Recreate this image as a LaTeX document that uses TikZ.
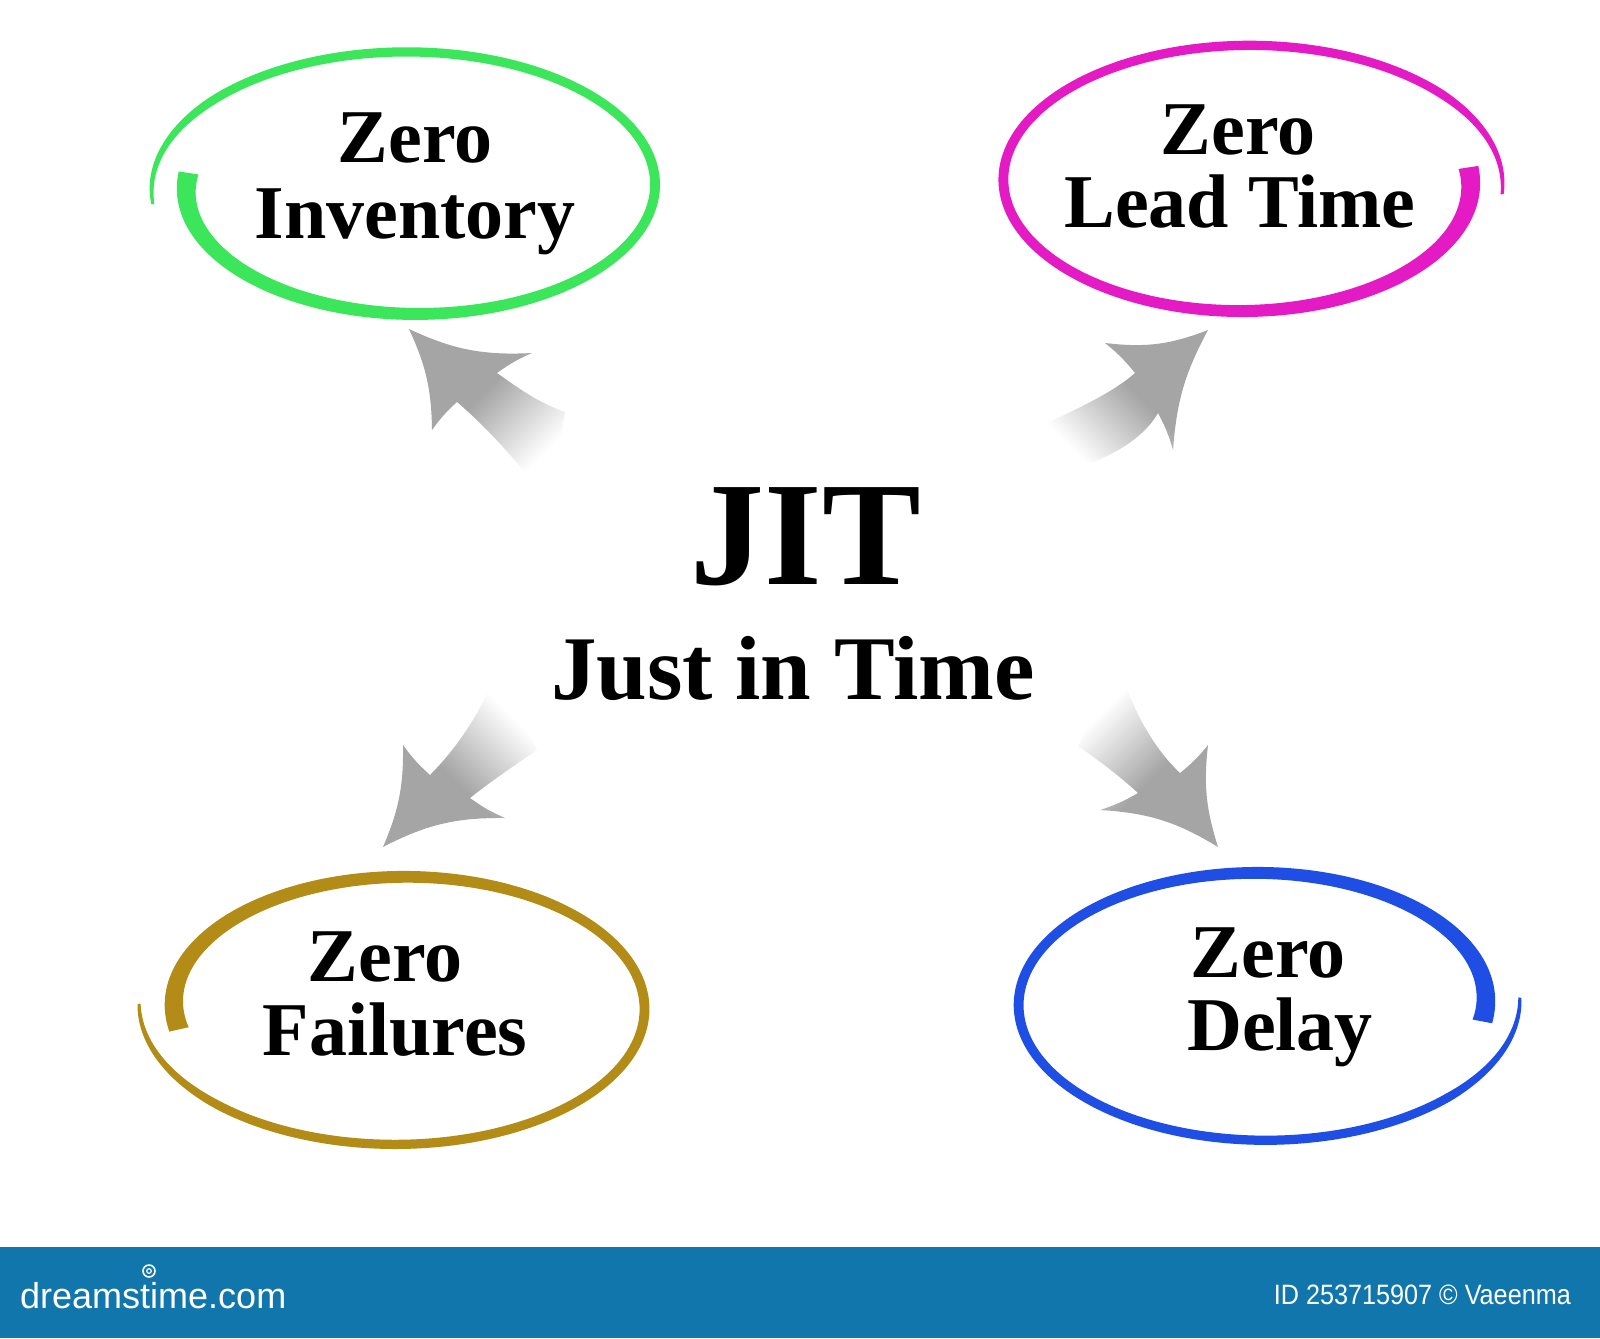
\documentclass[tikz,border=0pt]{standalone}
\usepackage{fontspec}
\setmainfont{Liberation Serif}
\newfontfamily\barfont{Liberation Sans}
\newfontfamily\idfont[FakeStretch=0.9]{Liberation Sans}
\definecolor{hgreen}{RGB}{60,230,90}
\definecolor{hmagenta}{RGB}{228,26,196}
\definecolor{hgold}{RGB}{178,140,22}
\definecolor{hblue}{RGB}{30,78,228}
\definecolor{agray}{RGB}{165,165,165}
\definecolor{barblue}{RGB}{16,118,172}
\pgfdeclareverticalshading{arrfade}{100bp}{color(0bp)=(white); color(30bp)=(white); color(56bp)=(agray); color(100bp)=(agray)}
\newcommand\jithoop[9]{%
  \fill[#9] plot[domain=0:1,samples=240,variable=\s]
    ({#1+(#3+#5*\s+0.5*wid(\s))*cos(#7+(#8)*\s)},{#2+(#4+#6*\s+0.5*wid(\s))*sin(#7+(#8)*\s)})
    -- plot[domain=1:0,samples=240,variable=\s]
    ({#1+(#3+#5*\s-0.5*wid(\s))*cos(#7+(#8)*\s)},{#2+(#4+#6*\s-0.5*wid(\s))*sin(#7+(#8)*\s)})
    -- cycle;}
\tikzset{
  lbl/.style={font=\fontsize{76}{76}\selectfont\bfseries, inner sep=0pt, anchor=base},
  arr/.style={shading=arrfade},
}
\begin{document}
\begin{tikzpicture}[x=1pt,y=-1pt,
  declare function={wid(\x)=9+11*exp(-5*\x)-6*max(0,(\x-0.88)/0.12);}]
\path[use as bounding box, fill=white] (0,0) rectangle (1600,1338);

% hand-drawn rings
\jithoop{412}{187.5}{225}{121.5}{36}{19}{187}{-374}{hgreen}
\jithoop{1245}{182.3}{225}{124.3}{33}{17}{-7}{372}{hmagenta}
\jithoop{400.5}{1006}{225.5}{124}{36}{19}{169}{372}{hgold}
\jithoop{1260.75}{1002.2}{224.25}{124.5}{35}{18}{9}{-371}{hblue}

% curved gray arrows
\shade[arr, shading angle=45] (409,329) to[bend right=14] (532,353) to[bend right=6] (497,373)
  .. controls (525,393) and (540,403) .. (565,412) -- (550,505)
  .. controls (525,470) and (490,430) .. (457,402) to[bend right=6] (432,430)
  to[bend right=12] (409,329) -- cycle;
\shade[arr, shading angle=-45] (1208,330) to[bend right=12] (1173,450) to[bend right=6] (1158,413)
  .. controls (1140,445) and (1090,470) .. (1035,476) -- (1028,432)
  .. controls (1070,412) and (1110,395) .. (1135,373) to[bend right=6] (1105,343)
  to[bend right=14] (1208,330) -- cycle;
\shade[arr, shading angle=135] (383,847) to[bend right=12] (403,745) to[bend right=6] (430,775)
  .. controls (460,745) and (485,705) .. (498,668) -- (537,750)
  .. controls (515,765) and (490,782) .. (470,798) to[bend right=6] (505,818)
  to[bend right=14] (383,847) -- cycle;
\shade[arr, shading angle=-135] (1218,847) to[bend right=14] (1100,810) to[bend right=6] (1138,793)
  .. controls (1115,772) and (1095,758) .. (1078,746) -- (1120,665)
  .. controls (1128,700) and (1150,745) .. (1180,773) to[bend right=6] (1208,745)
  to[bend right=12] (1218,847) -- cycle;

% texts
\node[lbl] (invA) at (415,162) {Zero};
\node[lbl] (invB) at (415,238) {Inventory};
\node[lbl] (leadA) at (1238,154) {Zero};
\node[lbl] (leadB) at (1240,227) {Lead Time};
\node[lbl] (failA) at (385,981) {Zero};
\node[lbl] (failB) at (395,1055) {Failures};
\node[lbl] (delA) at (1268,977) {Zero};
\node[lbl] (delB) at (1280,1050) {Delay};
\node[font=\fontsize{148}{148}\selectfont\bfseries, inner sep=0pt, anchor=base] (jit) at (806,584) {JIT};
\node[font=\fontsize{91}{91}\selectfont\bfseries, inner sep=0pt, anchor=base] (jitsub) at (793,699) {Just in Time};

% bottom bar
\fill[barblue] (0,1247) rectangle (1600,1338);
\node[font=\barfont\fontsize{36}{36}\selectfont, text=white, anchor=base west, inner sep=0pt] (ds) at (20,1308) {dreamstime.com};
\draw[white, line width=1.6] (149,1271) circle (6);
\draw[white, line width=1.2] (149,1271) circle (2.3);
\node[font=\idfont\fontsize{28}{28}\selectfont, text=white, anchor=base east, inner sep=0pt] (id) at (1571,1304) {ID 253715907 © Vaeenma};
\end{tikzpicture}
\end{document}
